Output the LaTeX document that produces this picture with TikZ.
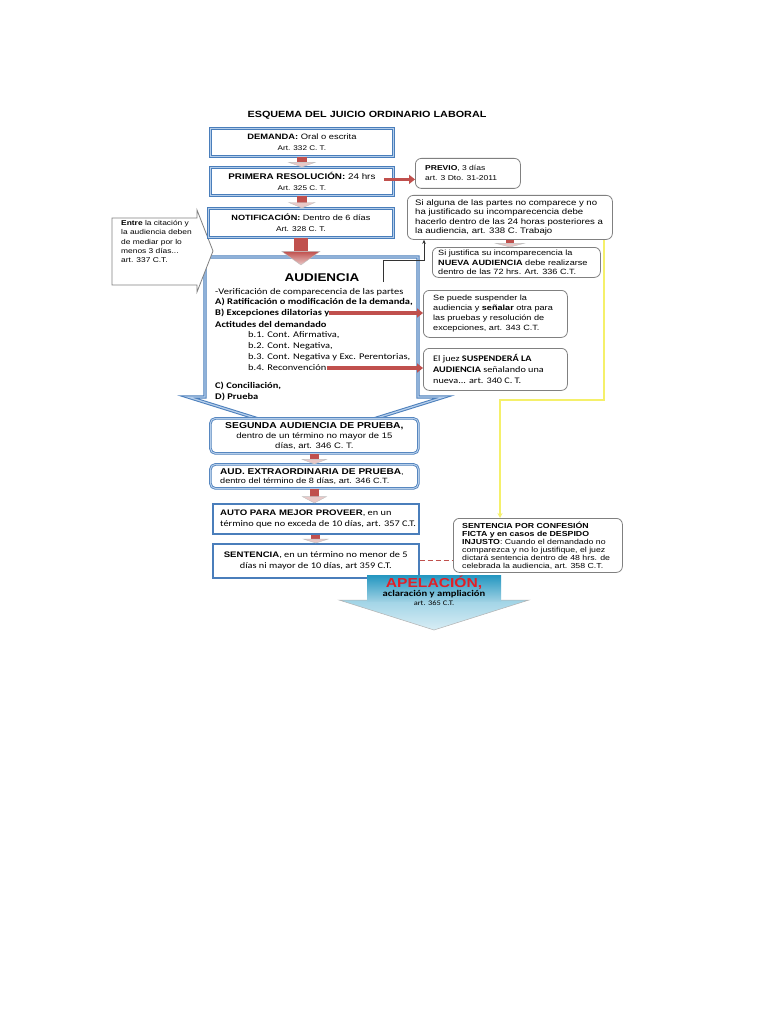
\documentclass[tikz,border=0pt]{standalone}
\usepackage{fontspec}
\setmainfont{Liberation Sans}[FakeStretch=1.2]
\newfontfamily\cb{Carlito}[FakeStretch=1.2]
\usetikzlibrary{arrows.meta,calc}
\definecolor{bl}{HTML}{4A7EBB}
\definecolor{blL}{HTML}{B4CDEA}
\definecolor{rd}{HTML}{C0504D}
\definecolor{pk}{HTML}{E9C9C8}
\definecolor{gb}{HTML}{808080}
\definecolor{tl}{HTML}{2396C0}
\definecolor{tlL}{HTML}{9FD3E6}
\definecolor{yl}{HTML}{F5F06A}
\definecolor{apred}{HTML}{E21F26}
\newcommand\fs[2]{\fontsize{#1}{#2}\selectfont}
\newcommand\blockdown[5]{%
 \fill[rd] let \p1=(#1.south), \p2=(#2.north) in (\x1-#3,\y1) rectangle (\x1+#3,{\y2+#5*(\y1-\y2)});
 \filldraw[fill=pk, draw=gray!50, line width=0.4pt] let \p1=(#1.south), \p2=(#2.north) in (\x1-#4,{\y2+#5*(\y1-\y2)}) -- (\x1+#4,{\y2+#5*(\y1-\y2)}) -- (\x1,\y2) -- cycle;
}
\tikzset{
 bbox/.style={draw=bl, double=blL, line width=0.8pt, double distance=1pt, fill=white, inner sep=0pt, anchor=north west},
 rbox/.style={bbox, rounded corners=5pt},
 sbox/.style={draw=bl, line width=1.5pt, fill=white, inner sep=0pt, anchor=north west},
 gbox/.style={draw=gb, line width=0.8pt, rounded corners=6pt, fill=white, anchor=north west, inner sep=0pt},
 txt/.style={inner sep=0pt, anchor=west, align=left},
 itm/.style={inner sep=0pt, anchor=west, font=\cb\fs{8.7}{10}},
 itb/.style={itm, font=\cb\fs{8.7}{10}\bfseries},
 rarrow/.style={draw=rd, line width=3.2pt, -{Triangle[length=6pt,width=9pt]}},
}
\begin{document}
\begin{tikzpicture}[x=1pt,y=-1pt]
\useasboundingbox (0,0) rectangle (768,1024);
\fill[white] (0,0) rectangle (768,1024);

\node[font=\fs{9}{11}\bfseries, inner sep=0pt] (title) at (367,115) {ESQUEMA DEL JUICIO ORDINARIO LABORAL};

% AUDIENCIA outline
\draw[draw=bl, double=blL, line width=1pt, double distance=1.3pt, fill=white, line join=miter]
  (205,397) -- (205,257) -- (418,257) -- (418,397) -- (444,397) -- (316,437) -- (188,397) -- cycle;
\coordinate (audin) at (303,265);

% left block arrow
\draw[gb, line width=0.8pt, fill=white] (112,218) -- (197,218) -- (197,210) -- (213,251) -- (197,292) -- (197,285) -- (112,285) -- cycle;
\node[txt, anchor=north west, font=\fs{7}{9.4}] (entre) at (121,220) {\textbf{Entre} la citación y\\la audiencia deben\\de mediar por lo\\menos 3 días...\\art. 337 C.T.};

% main blue boxes
\node[bbox, minimum width=183pt, minimum height=28pt, align=center, font=\fs{7.8}{11}] (dem) at (210,128)
  {\textbf{DEMANDA:} Oral o escrita\\{\fs{6.8}{11}Art. 332 C. T.}};
\node[bbox, minimum width=183pt, minimum height=28pt, align=center, font=\fs{8.2}{10.5}] (prim) at (210,167)
  {\textbf{PRIMERA RESOLUCIÓN:} 24 hrs\\{\fs{6.8}{10.5}Art. 325 C. T.}};
\node[bbox, minimum width=185pt, minimum height=29pt, align=center, font=\fs{7.6}{11}] (notif) at (208,208)
  {\textbf{NOTIFICACIÓN:} Dentro de 6 días\\{\fs{7}{11}Art. 328 C. T.}};

% block arrows down
\blockdown{dem}{prim}{5pt}{13pt}{0.45}
\blockdown{prim}{notif}{5pt}{13pt}{0.45}
\fill[rd] let \p1=(notif.south), \p2=(audin) in (\x1-7pt,\y1) rectangle (\x1+7pt,{\y2+0.5*(\y1-\y2)});
\shade[top color=rd, bottom color=pk, draw=gray!50, line width=0.4pt] let \p1=(notif.south), \p2=(audin) in
  (\x1-19pt,{\y2+0.5*(\y1-\y2)}) -- (\x1+19pt,{\y2+0.5*(\y1-\y2)}) -- (\x1,\y2) -- cycle;

% AUDIENCIA content
\node[inner sep=0pt, font=\fs{11.2}{12}\bfseries] (audt) at (322,278) {AUDIENCIA};
\node[itm] (iv) at (215,292) {-Verificación de comparecencia de las partes};
\node[itb] (iA) at (215,302) {A) Ratificación o modificación de la demanda,};
\node[itb] (bB) at (215,313) {B) Excepciones dilatorias y};
\node[itb] (iAc) at (215,324) {Actitudes del demandado};
\node[itm] (b1) at (248,335) {b.1. Cont. Afirmativa,};
\node[itm] (b2) at (248,346) {b.2. Cont. Negativa,};
\node[itm] (b3) at (248,357) {b.3. Cont. Negativa y Exc. Perentorias,};
\node[itm] (b4) at (248,368) {b.4. Reconvención};
\node[itb] (iC) at (215,386) {C) Conciliación,};
\node[itb] (iD) at (215,397) {D) Prueba};

% gray boxes on the right
\node[gbox, minimum width=105pt, minimum height=30pt] (prev) at (415,158) {};
\node[txt, font=\fs{7.1}{10}] (prevt) at ($(prev.west)+(10,0)$) {\textbf{PREVIO}, 3 días\\art. 3 Dto. 31-2011};
\node[gbox, minimum width=205pt, minimum height=44pt] (sia) at (407,195) {};
\node[txt, font=\fs{8}{9.3}] (siat) at ($(sia.west)+(8,0)$) {Si alguna de las partes no comparece y no\\ha justificado su incomparecencia debe\\hacerlo dentro de las 24 horas posteriores a\\la audiencia, art. 338 C. Trabajo};
\node[gbox, minimum width=168pt, minimum height=30pt] (sij) at (432,247) {};
\node[txt, font=\fs{7.6}{9.5}] (sijt) at ($(sij.west)+(6,0)$) {Si justifica su incomparecencia la\\\textbf{NUEVA AUDIENCIA} debe realizarse\\dentro de las 72 hrs. Art. 336 C.T.};
\node[gbox, minimum width=144pt, minimum height=47pt] (sep) at (423,290) {};
\node[txt, font=\fs{7.6}{10}] (sept) at ($(sep.west)+(10,0)$) {Se puede suspender la\\audiencia y \textbf{señalar} otra para\\las pruebas y resolución de\\excepciones, art. 343 C.T.};
\node[gbox, minimum width=144pt, minimum height=42pt] (juez) at (423,348) {};
\node[txt, font=\cb\fs{8.5}{11}] (juezt) at ($(juez.west)+(10,0)$) {El juez \textbf{SUSPENDERÁ LA}\\\textbf{AUDIENCIA} señalando una\\nueva... art. 340 C. T.};

\blockdown{sia}{sij}{4pt}{14pt}{0.5}

% red side arrows
\coordinate (pa) at ($(prim.east)+(-10,-2)$);
\draw[rarrow] (pa) -- (pa -| prev.west);
\draw[rarrow] (bB.east) -- (bB.east -| sep.west);
\draw[rarrow] (b4.east) -- (b4.east -| juez.west);

% gray connector
\coordinate (g1) at (383,282);
\draw[gray!40!black, line width=0.7pt, -{Stealth[length=4pt,width=3.5pt]}] (g1) -- ++(0,-22) -| ($(sia.south west)+(17,0)$);

% lower boxes
\node[rbox, minimum width=208pt, minimum height=35pt, align=center, font=\fs{7.9}{9.6}] (seg) at (210,418)
  {{\fs{8.6}{9.6}\bfseries SEGUNDA AUDIENCIA DE PRUEBA,}\\dentro de un término no mayor de 15\\días, art. 346 C. T.};
\node[rbox, minimum width=208pt, minimum height=24pt] (aex) at (210,464) {};
\node[txt, font=\fs{7.6}{9.5}] (aext) at ($(aex.west)+(10,0)$) {{\fs{8.4}{9.5}\bfseries AUD. EXTRAORDINARIA DE PRUEBA},\\dentro del término de 8 días, art. 346 C.T.};
\node[sbox, minimum width=206pt, minimum height=30pt] (auto) at (212,503) {};
\node[txt, font=\cb\fs{8.6}{11}] (autot) at ($(auto.west)+(8,0)$) {{\rmfamily\fs{8}{11}\bfseries AUTO PARA MEJOR PROVEER}, en un\\término que no exceda de 10 días, art. 357 C.T.};
\node[sbox, minimum width=206pt, minimum height=34pt, align=center, font=\cb\fs{8.6}{11}] (sent) at (212,543)
  {{\rmfamily\fs{8}{11}\bfseries SENTENCIA}, en un término no menor de 5\\días ni mayor de 10 días, art 359 C.T.};

\blockdown{seg}{aex}{4.5pt}{12pt}{0.45}
\blockdown{aex}{auto}{4.5pt}{12pt}{0.45}
\blockdown{auto}{sent}{4.5pt}{12pt}{0.45}

% confesion box
\node[gbox, minimum width=169pt, minimum height=54pt] (conf) at (453,518) {};
\node[txt, font=\fs{7.3}{8}] (conft) at ($(conf.west)+(9,0)$) {\textbf{SENTENCIA POR CONFESIÓN}\\\textbf{FICTA y en casos de DESPIDO}\\\textbf{INJUSTO}: Cuando el demandado no\\comparezca y no lo justifique, el juez\\dictará sentencia dentro de 48 hrs. de\\celebrada la audiencia, art. 358 C.T.};

% yellow connector
\draw[yl, line width=1.6pt, -{Stealth[length=5pt,width=5pt]}] ($(sia.south east)+(-9,0)$) -- ++(0,160) -| ($(conf.north west)+(47,0)$);
% dashed connector
\draw[rd, line width=0.8pt, dash pattern=on 5pt off 3pt] (sent.east) -- (sent.east -| conf.west);

% APELACION arrow
\shade[top color=tlL, bottom color=tlL!40!white, draw=gray!60, line width=0.5pt] (339,600) -- (529,600) -- (434,630) -- cycle;
\shade[top color=tl, bottom color=tl!45!white] (367,575) rectangle (501,601);
\node[inner sep=0pt, font=\fs{13}{13}\bfseries, text=apred] (apel1) at (434,583) {APELACIÓN,};
\node[inner sep=0pt, font=\cb\fs{8.8}{9}\bfseries] (apel2) at (434,594) {aclaración y ampliación};
\node[inner sep=0pt, font=\cb\fs{7}{8}] (apel3) at (434,603) {art. 365 C.T.};
\end{tikzpicture}
\end{document}
